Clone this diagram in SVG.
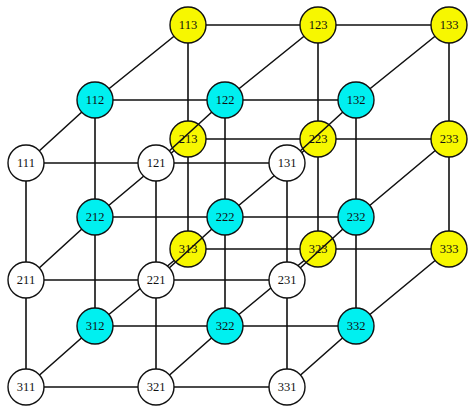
<svg xmlns="http://www.w3.org/2000/svg" width="474" height="414" viewBox="0 0 474 414">
<style>
.e{stroke:#111;stroke-width:1.6;fill:none}
.c{stroke:#111;stroke-width:1.4}
.w{fill:#ffffff}
.b{fill:#00f0f0}
.y{fill:#f7f700}
text{font-family:"Liberation Serif","Times New Roman",serif;font-size:12.5px;fill:#111;text-anchor:middle;dominant-baseline:central}
</style>
<rect width="474" height="414" fill="#fff"/>
<g id="connectors-under">
<path class="e" d="M188 25H318M318 25H449M188 139H318M318 139H449M188 249H318M318 249H449
M188 25V139M188 139V249M318 25V139M318 139V249M449 25V139M449 139V249
M95 100L188 25M225 100L318 25M356 100L449 25
M95 217L188 139M225 217L318 139M356 217L449 139
M95 326L188 249M225 326L318 249M356 326L449 249"/>
</g>
<g id="n113"><circle class="c y" cx="188" cy="25" r="18"/><text x="188" y="25">113</text></g>
<g id="n123"><circle class="c y" cx="318" cy="25" r="18"/><text x="318" y="25">123</text></g>
<g id="n133"><circle class="c y" cx="449" cy="25" r="18"/><text x="449" y="25">133</text></g>
<g id="n213"><circle class="c y" cx="188" cy="139" r="18"/><text x="188" y="139">213</text></g>
<g id="n223"><circle class="c y" cx="318" cy="139" r="18"/><text x="318" y="139">223</text></g>
<g id="n233"><circle class="c y" cx="449" cy="139" r="18"/><text x="449" y="139">233</text></g>
<g id="n313"><circle class="c y" cx="188" cy="249" r="18"/><text x="188" y="249">313</text></g>
<g id="n323"><circle class="c y" cx="318" cy="249" r="18"/><text x="318" y="249">323</text></g>
<g id="n333"><circle class="c y" cx="449" cy="249" r="18"/><text x="449" y="249">333</text></g>
<g id="connectors">
<path class="e" d="M26 163H156M156 163H287M26 280H156M156 280H287M26 387H156M156 387H287
M26 163V280M26 280V387M156 163V280M156 280V387M287 163V280M287 280V387
M95 100H225M225 100H356M95 217H225M225 217H356M95 326H225M225 326H356
M95 100V217M95 217V326M225 100V217M225 217V326M356 100V217M356 217V326
M26 163L95 100M156 163L225 100M287 163L356 100
M26 280L95 217M156 280L225 217M287 280L356 217
M26 387L95 326M156 387L225 326M287 387L356 326"/>
</g>
<g id="n112"><circle class="c b" cx="95" cy="100" r="18"/><text x="95" y="100">112</text></g>
<g id="n122"><circle class="c b" cx="225" cy="100" r="18"/><text x="225" y="100">122</text></g>
<g id="n132"><circle class="c b" cx="356" cy="100" r="18"/><text x="356" y="100">132</text></g>
<g id="n212"><circle class="c b" cx="95" cy="217" r="18"/><text x="95" y="217">212</text></g>
<g id="n222"><circle class="c b" cx="225" cy="217" r="18"/><text x="225" y="217">222</text></g>
<g id="n232"><circle class="c b" cx="356" cy="217" r="18"/><text x="356" y="217">232</text></g>
<g id="n312"><circle class="c b" cx="95" cy="326" r="18"/><text x="95" y="326">312</text></g>
<g id="n322"><circle class="c b" cx="225" cy="326" r="18"/><text x="225" y="326">322</text></g>
<g id="n332"><circle class="c b" cx="356" cy="326" r="18"/><text x="356" y="326">332</text></g>
<g id="n111"><circle class="c w" cx="26" cy="163" r="18"/><text x="26" y="163">111</text></g>
<g id="n121"><circle class="c w" cx="156" cy="163" r="18"/><text x="156" y="163">121</text></g>
<g id="n131"><circle class="c w" cx="287" cy="163" r="18"/><text x="287" y="163">131</text></g>
<g id="n211"><circle class="c w" cx="26" cy="280" r="18"/><text x="26" y="280">211</text></g>
<g id="n221"><circle class="c w" cx="156" cy="280" r="18"/><text x="156" y="280">221</text></g>
<g id="n231"><circle class="c w" cx="287" cy="280" r="18"/><text x="287" y="280">231</text></g>
<g id="n311"><circle class="c w" cx="26" cy="387" r="18"/><text x="26" y="387">311</text></g>
<g id="n321"><circle class="c w" cx="156" cy="387" r="18"/><text x="156" y="387">321</text></g>
<g id="n331"><circle class="c w" cx="287" cy="387" r="18"/><text x="287" y="387">331</text></g>
</svg>
